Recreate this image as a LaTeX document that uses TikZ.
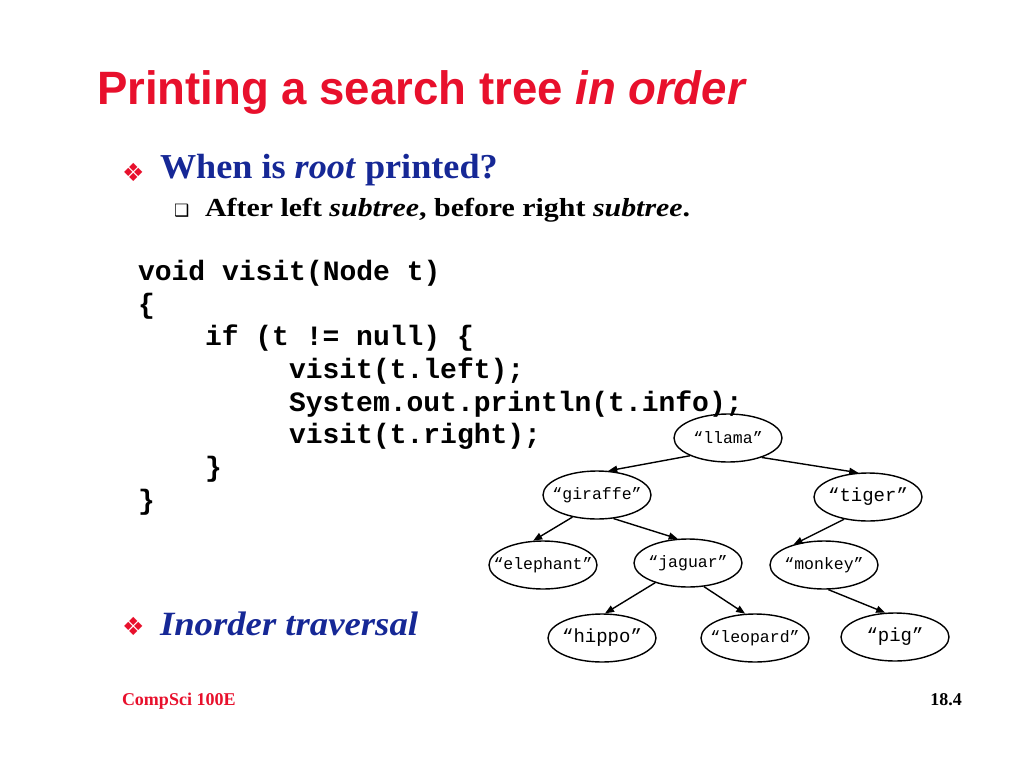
\documentclass[tikz,border=0pt]{standalone}
\usepackage{fontspec}
\usepackage{graphicx}
\setmainfont{Liberation Serif}
\newfontfamily\titlefont{Liberation Sans}
\newfontfamily\codefont{Liberation Mono}
\newfontfamily\symfont{DejaVu Sans}
\usetikzlibrary{shapes.geometric,arrows.meta}
\definecolor{titlered}{RGB}{232,16,44}
\definecolor{bulletblue}{RGB}{22,40,150}
\tikzset{
  txt/.style={anchor=base west,inner sep=0pt,outer sep=0pt},
  codeline/.style={txt,font=\codefont\bfseries\fontsize{28}{28}\selectfont},
  tnode/.style={ellipse,draw,line width=1.4pt,minimum width=108pt,minimum height=48pt,inner sep=0pt,font=\codefont\fontsize{16.5}{16.5}\selectfont},
  bignode/.style={tnode,font=\codefont\fontsize{19}{19}\selectfont},
  edge/.style={line width=1.4pt,-{Triangle[length=9pt,width=7pt]}},
  diamondbullet/.style={txt,text=titlered,font=\symfont\fontsize{25}{25}\selectfont}
}
\begin{document}
\begin{tikzpicture}[x=1pt,y=-1pt]
\useasboundingbox (0,0) rectangle (1024,768);
\fill[white] (0,0) rectangle (1024,768);
% title
\node[txt,text=titlered,font=\titlefont\bfseries\fontsize{45}{45}\selectfont] (title) at (97,104) {\scalebox{1.012}[1.04]{Printing a search tree \textit{in order}}};
% bullets
\node[diamondbullet] (b1) at (122,181) {❖};
\node[txt,text=bulletblue,font=\bfseries\fontsize{35}{35}\selectfont] (t1) at (160,178) {\scalebox{1.034}[1]{When is \textit{root} printed?}};
\node[txt,font=\symfont\fontsize{17}{17}\selectfont] (b2) at (174,216) {❑};
\node[txt,font=\bfseries\fontsize{26}{26}\selectfont] (t2) at (205,216) {\scalebox{1.15}[1]{After left \textit{subtree}, before right \textit{subtree}.}};
% code
\node[codeline] (c1) at (138,280) {void visit(Node t)};
\node[codeline] (c2) at (138,313) {\{};
\node[codeline] (c3) at (205,345) {if (t != null) \{};
\node[codeline] (c4) at (289,378) {visit(t.left);};
\node[codeline] (c5) at (289,411) {System.out.println(t.info);};
\node[codeline] (c6) at (289,443) {visit(t.right);};
\node[codeline] (c7) at (205,476) {\}};
\node[codeline] (c8) at (138,509) {\}};
% second bullet
\node[diamondbullet] (b3) at (122,635) {❖};
\node[txt,text=bulletblue,font=\bfseries\itshape\fontsize{34}{34}\selectfont] (t3) at (160,635) {\scalebox{1.08}[1]{Inorder traversal}};
% footer
\node[txt,text=titlered,font=\bfseries\fontsize{18}{18}\selectfont] (f1) at (122,705) {CompSci 100E};
\node[anchor=base east,inner sep=0pt,font=\bfseries\fontsize{18}{18}\selectfont] (f2) at (962,705) {18.4};
% tree
\node[tnode] (llama) at (728,438) {\makebox[0pt]{“llama”}};
\node[tnode] (giraffe) at (597,495) {\makebox[0pt]{“giraffe”}};
\node[bignode] (tiger) at (868,497) {\makebox[0pt]{“tiger”}};
\node[tnode] (elephant) at (543,565) {\makebox[0pt]{“elephant”}};
\node[tnode] (jaguar) at (688,563) {\makebox[0pt]{“jaguar”}};
\node[tnode] (monkey) at (824,565) {\makebox[0pt]{“monkey”}};
\node[bignode] (hippo) at (602,638) {\makebox[0pt]{“hippo”}};
\node[tnode] (leopard) at (755,638) {\makebox[0pt]{“leopard”}};
\node[bignode] (pig) at (895,637) {\makebox[0pt]{“pig”}};
\draw[edge] (llama.205) -- (giraffe.65);
\draw[edge] (llama.330) -- (tiger.112);
\draw[edge] (giraffe.222) -- (elephant.112);
\draw[edge] (giraffe.305) -- (jaguar.113);
\draw[edge] (tiger.223) -- (monkey.146);
\draw[edge] (jaguar.211) -- (hippo.83);
\draw[edge] (jaguar.304) -- (leopard.112);
\draw[edge] (monkey.280) -- (pig.112);
\end{tikzpicture}
\end{document}
